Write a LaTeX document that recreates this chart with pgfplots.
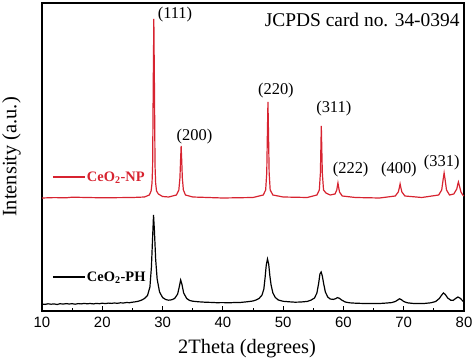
\documentclass[border=0pt]{standalone}
\usepackage{pgfplots}
\pgfplotsset{compat=1.18}
\usepackage{fontspec}
\setmainfont{Liberation Serif}
\newfontfamily\arial{Liberation Sans}
\definecolor{ceored}{RGB}{215,35,48}

\pgfplotstableread{
x y
10 113
12 113.4
14 113.2
15 113.8
20 113.2
25 113.5
27 114
27.8 116
28.1 120
28.25 128
28.35 145
28.45 225
28.55 292
28.65 225
28.75 145
28.85 128
29.0 120
29.3 117
30 114.5
31 114
32.3 116
32.7 121
32.88 133
32.98 150
33.08 165
33.18 150
33.28 133
33.45 121
33.8 116
35 114
40 113
45 113.5
46.7 116
47.1 121
47.28 138
47.38 175
47.48 209
47.58 175
47.68 138
47.85 121
48.3 116
50 114
54 113.5
55.6 116
56.0 121
56.18 138
56.25 160
56.33 185
56.42 160
56.5 138
56.7 121
57.1 118
57.8 116
58.6 117
58.9 121
59.0 125
59.09 128
59.2 124
59.35 119
59.8 115
62 113.5
66 113
68.6 115
69.1 119
69.3 124
69.4 127
69.5 124
69.7 119
70.2 115
73 113.5
75.8 116
76.3 121
76.55 132
76.7 138
76.85 132
77.1 121
77.6 116
78.3 117
78.8 122
78.98 127
79.07 129
79.2 126
79.5 119
79.8 116
80 115
}\npdata

\pgfplotstableread{
x y
10 7
10.5 6.6
11 7.2
11.5 6.8
12 7.1
12.5 6.5
13 7.3
13.5 6.9
14 7.4
14.5 7.0
15 7.3
15.5 6.8
16 7.4
16.5 7.1
17 7.6
17.5 7.2
18 7.5
18.5 7.1
19 7.6
19.5 7.3
20 7.8
20.5 7.4
21 7.9
21.5 7.6
22 8.0
22.5 7.7
23 8.2
23.5 8.0
24 8.5
24.5 8.3
25 8.8
25.5 9.2
26 9.8
26.5 10.8
27 12.5
27.5 15.5
27.9 24
28.15 44
28.35 74
28.5 96
28.65 80
28.85 52
29.1 32
29.5 19
30 13.5
30.5 11.5
31 10.8
31.5 11.2
32 12.5
32.5 17
32.8 25
33.0 31
33.2 27
33.5 18
34 12.5
34.5 10.5
35 9.8
36 9.2
37 8.8
38 8.6
39 8.3
40 8.4
41 8.2
42 8.5
43 8.6
44 9.2
45 10
45.5 11
46 12.5
46.5 16
46.8 22
47.0 33
47.2 46
47.4 52
47.6 47
47.8 35
48.0 26
48.3 18
48.7 13.5
49.2 11
50 9.7
51 9.2
52 8.8
53 9.0
54 9.6
54.6 10.8
55.2 13
55.6 18
55.9 28
56.1 37
56.3 39
56.5 35
56.7 28
57.0 19
57.4 14
57.8 12
58.3 11.6
58.7 12.3
59.0 13.4
59.3 12.8
59.7 11
60.3 9
61 8.2
62 7.8
63 7.6
64 7.4
65 7.6
66 7.5
67 7.9
68 8.4
68.6 9.5
69.0 11
69.3 12.2
69.6 11.4
70.0 9.5
70.6 8.2
71.5 7.6
72.5 7.4
73.5 7.6
74.5 8.2
75.3 9.5
75.9 12.5
76.3 16
76.6 18
76.9 16.5
77.3 13
77.8 10.8
78.2 10.6
78.6 12.5
79.0 14
79.4 12.6
79.8 10
80 9
}\phdata

\begin{document}
\begin{tikzpicture}
\begin{axis}[
  name=ax,
  width=422bp, height=308bp, scale only axis,
  xmin=10, xmax=80, ymin=0, ymax=308,
  xtick={10,20,...,80},
  minor x tick num=1,
  ytick=\empty,
  xtick pos=bottom,
  tick align=inside,
  major tick length=5bp,
  minor tick length=3bp,
  every tick/.style={black, line width=0.9pt},
  axis line style={line width=1.1pt},
  /pgf/number format/assume math mode=true,
  xticklabel style={font=\arial\fontsize{15}{17}\selectfont, yshift=-3bp},
  xlabel={2Theta (degrees)},
  xlabel style={font=\fontsize{20.5}{24}\selectfont, at={(axis description cs:0.5,0)}, anchor=north, inner sep=0pt, yshift=-28bp, xshift=-6bp},
  ylabel={Intensity (a.u.)},
  ylabel style={font=\fontsize{20.5}{24}\selectfont, at={(axis description cs:-0.05,0.5)}, anchor=south, inner sep=0pt, rotate=0},
  legend style={at={(axis description cs:0.0237,0.435)}, anchor=west, draw=none, fill=none, inner sep=0pt,
    font=\bfseries\fontsize{14.5}{16}\selectfont, nodes={inner sep=1.5bp}},
  legend image code/.code={\draw[#1, line width=1.3pt] (0bp,0bp) -- (32bp,0bp);},
  legend cell align=left,
]
\addplot[ceored, line width=1.2pt] table[x=x,y=y] {\npdata};
\addlegendentry{\textcolor{ceored}{CeO\textsubscript{2}-NP}}
\node[anchor=north east, inner sep=0pt, font=\fontsize{19.5}{22}\selectfont] at (axis description cs:0.99,0.967) {JCPDS card no. 34-0394};
\begin{scope}[every node/.style={font=\fontsize{16.5}{19}\selectfont, inner sep=0pt}]
\node at (axis cs:32.06,296) {(111)};
\node at (axis cs:35.3,174) {(200)};
\node at (axis cs:48.8,220) {(220)};
\node at (axis cs:58.4,202) {(311)};
\node at (axis cs:61.2,141) {(222)};
\node at (axis cs:69.2,141) {(400)};
\node at (axis cs:76.3,148) {(331)};
\end{scope}
\end{axis}
\begin{axis}[
  width=422bp, height=308bp, scale only axis,
  xmin=10, xmax=80, ymin=0, ymax=308,
  hide axis,
  legend style={at={(axis description cs:0.0237,0.11)}, anchor=west, draw=none, fill=none, inner sep=0pt,
    font=\bfseries\fontsize{14.5}{16}\selectfont, nodes={inner sep=1.5bp}},
  legend image code/.code={\draw[#1, line width=1.3pt] (0bp,0bp) -- (32bp,0bp);},
  legend cell align=left,
]
\addplot[black, line width=1.2pt] table[x=x,y=y] {\phdata};
\addlegendentry{CeO\textsubscript{2}-PH}
\end{axis}
\pgfresetboundingbox
\path ([xshift=-42bp,yshift=-52bp]ax.south west) rectangle ([xshift=10bp,yshift=3bp]ax.north east);
\end{tikzpicture}
\end{document}
